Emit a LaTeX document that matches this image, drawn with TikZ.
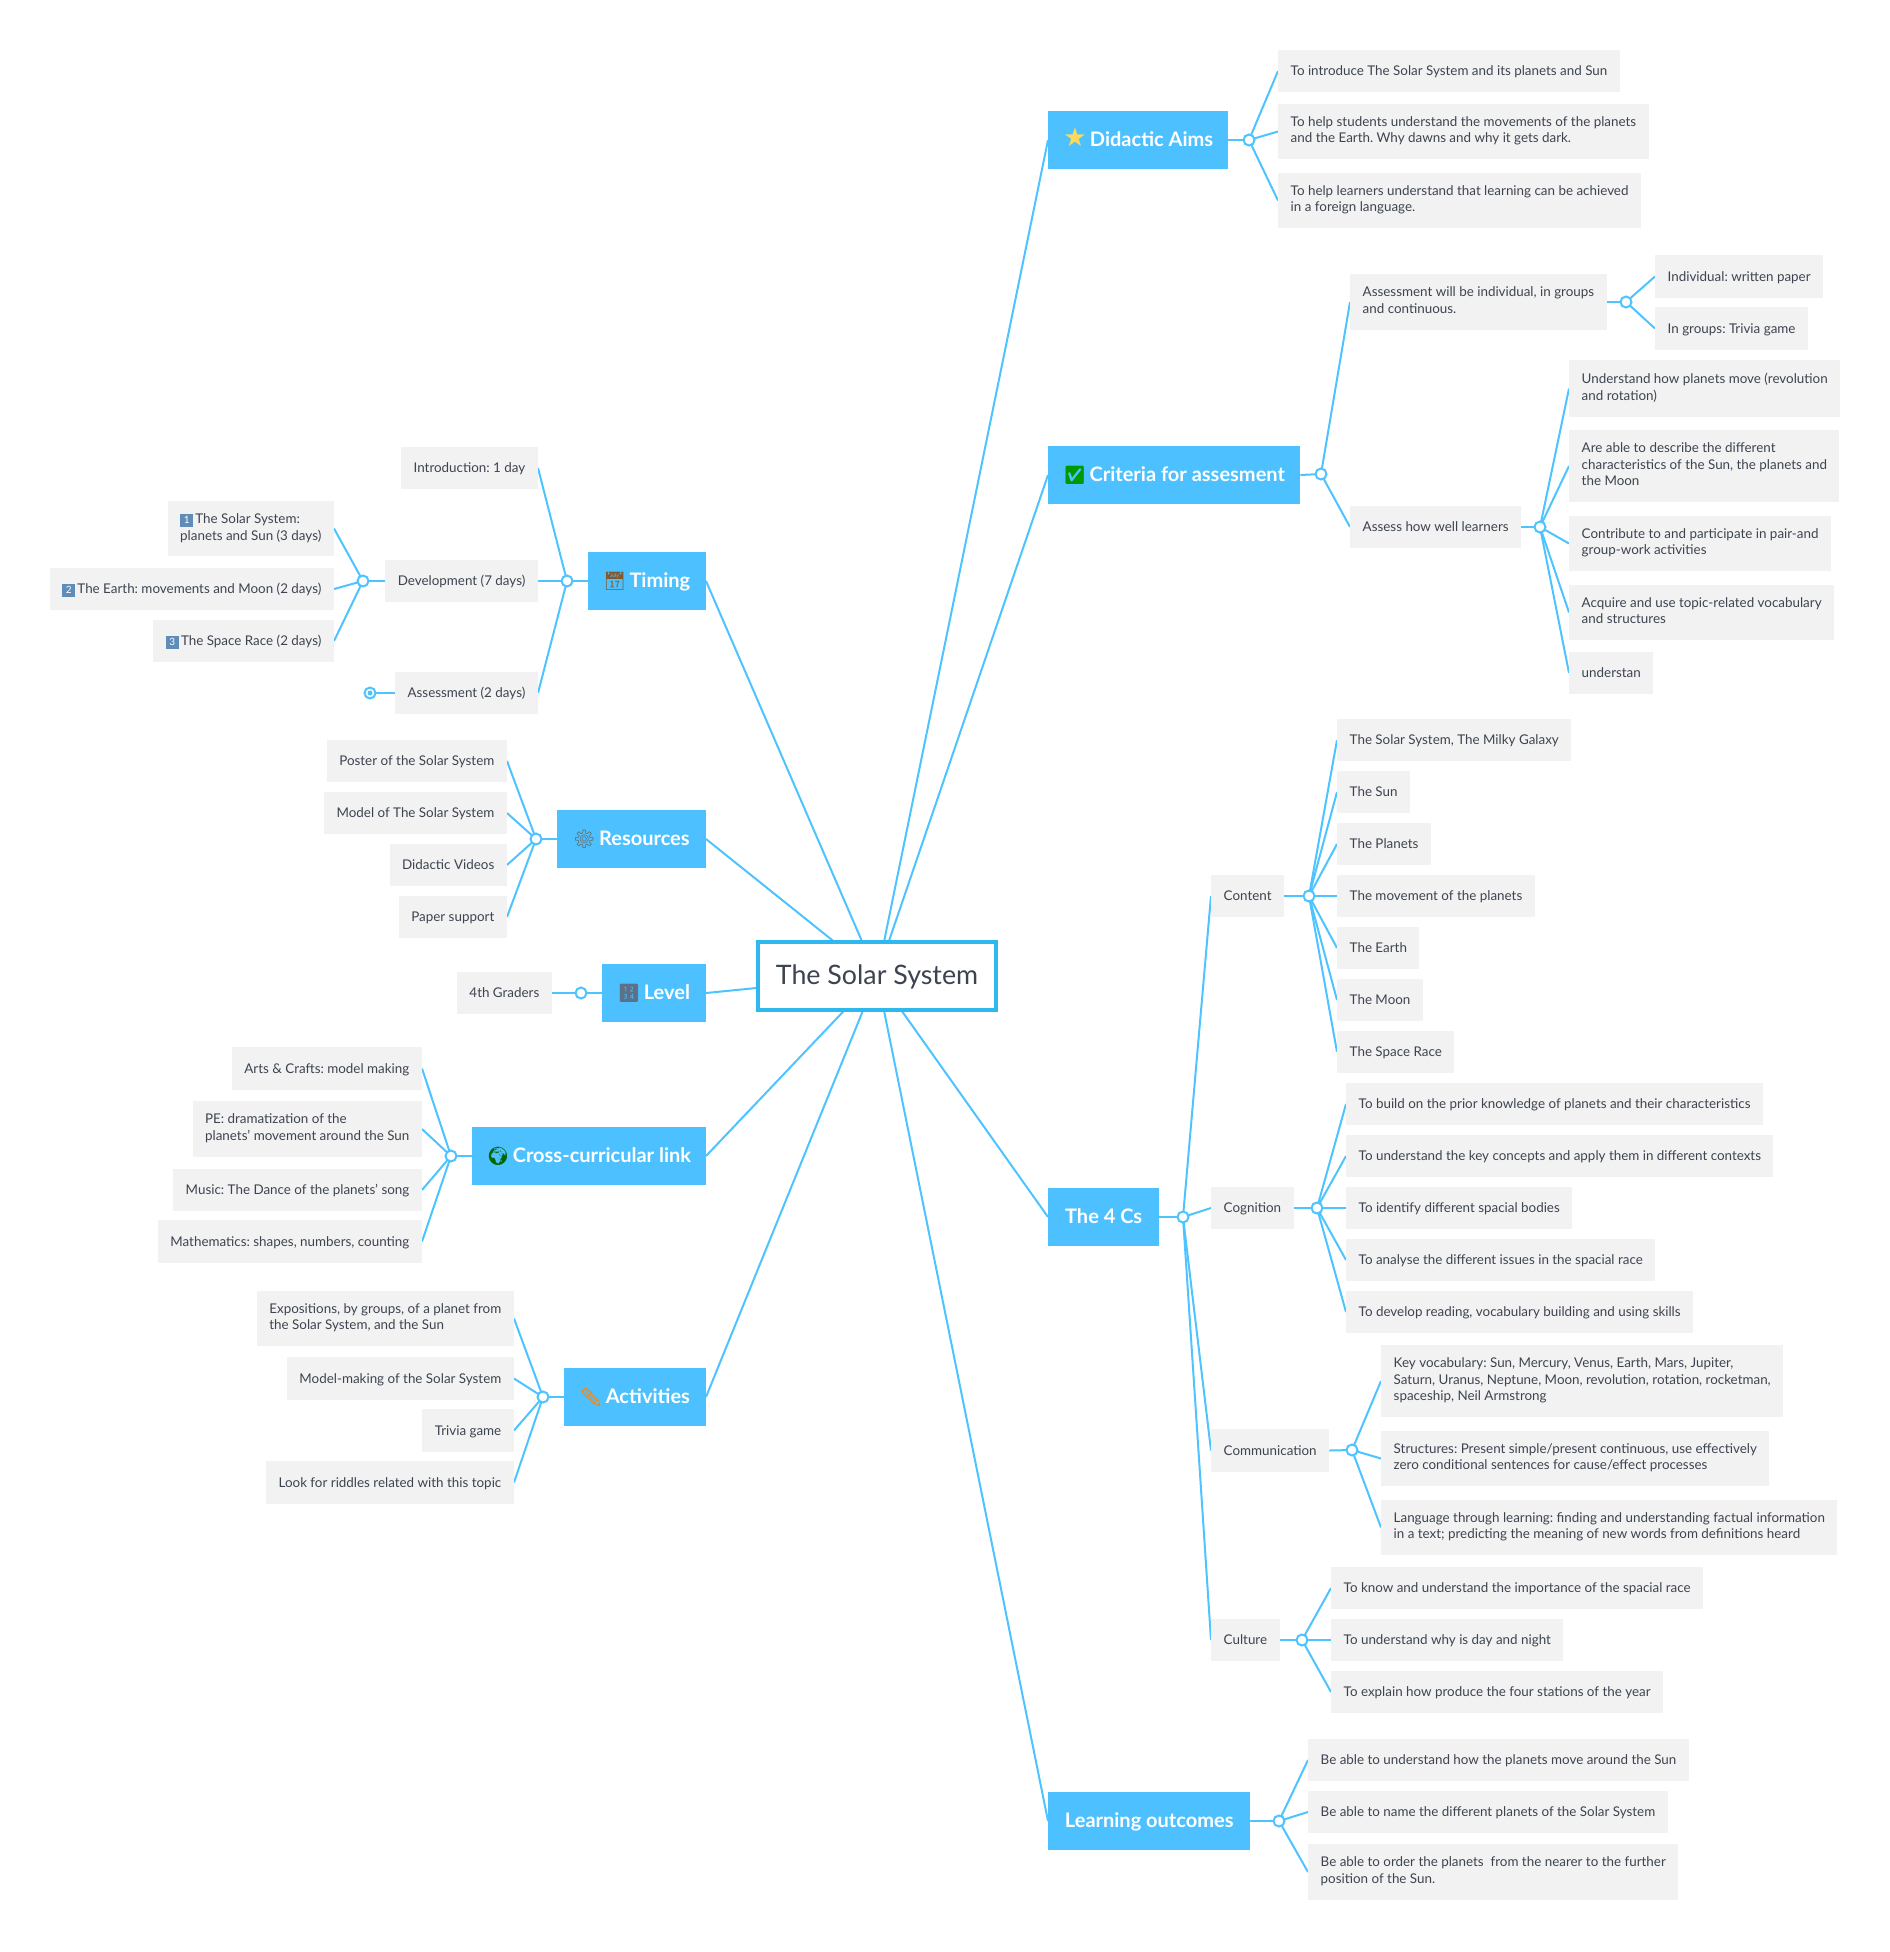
\documentclass[tikz,border=0pt]{standalone}
\usepackage{fontspec}
\setmainfont{Lato}
\newfontfamily\emojifont[Scale=0.9]{Noto Emoji}
\newfontfamily\symbolfont[Scale=1.3]{DejaVu Sans}
\usetikzlibrary{backgrounds}
\definecolor{edgeblue}{HTML}{4DC3FF}
\definecolor{topicblue}{HTML}{4DC1FF}
\definecolor{rootblue}{HTML}{2FB8EE}
\definecolor{leafgray}{HTML}{F2F2F2}
\definecolor{inkgray}{HTML}{3D4450}
\definecolor{keyblue}{HTML}{5F8DB8}
\definecolor{levelgray}{HTML}{5C7088}
\definecolor{stargold}{HTML}{FFD95A}
\newcommand\icon[2]{{\emojifont\color{#1}#2}\,}
\newcommand\keycap[1]{{\setlength{\fboxsep}{1.5pt}\colorbox{keyblue}{\makebox[10pt]{\rule[-1.5pt]{0pt}{10pt}\color{white}\fontsize{10}{10}\selectfont#1}}}\,}
\frenchspacing

\begin{document}
\begin{tikzpicture}[
	x=1pt, y=-1pt,
	root/.style = {draw=rootblue, line width=4pt, fill=white, text=inkgray, minimum width=238pt, minimum height=68pt, font=\fontsize{26.8}{32}\selectfont, execute at begin node=\rule[-5pt]{0pt}{27pt}},
	topic/.style = {fill=topicblue, text=white, minimum height=58pt, inner xsep=0pt, text height=16pt, text depth=3.6pt, font=\fontsize{20}{24}\selectfont\bfseries},
	leaf/.style = {fill=leafgray, text=inkgray, align=left, inner xsep=12.5pt, inner ysep=13pt, font=\fontsize{13.4}{16.5}\selectfont, execute at begin node=\rule{0pt}{13.05pt}, execute at end node=\rule[-3.45pt]{0pt}{3.45pt}},
	hub/.style = {circle, draw=edgeblue, line width=2pt, fill=white, inner sep=0pt, minimum size=11pt},
	edge/.style = {draw=edgeblue, line width=2pt},
]
	\useasboundingbox (0,0) rectangle (1890,1952);

	\node [root] at (877,976) (root) {The Solar System};

	%% The topics on the right: name/left/y/width/text
	\foreach \name/\x/\y/\w/\txt in {%
		aims/1048/140/180/{{\symbolfont\color{stargold}★}\,Didactic Aims},
		crit/1048/475/252/{\icon{green!60!black}{✅}Criteria for assesment},
		cs/1048/1217/111/{The 4 Cs},
		out/1048/1821/202/{Learning outcomes}%
	}{%
		\node [topic, anchor=west, minimum width=\w pt] at (\x,\y) (\name) {\txt};
	}

	%% The topics on the left: name/right/y/width/text
	\foreach \name/\x/\y/\w/\txt in {%
		time/706/581/118/{\icon{brown!70!black}{📅}Timing},
		res/706/839/149/{\icon{gray!80!black}{⚙}Resources},
		lvl/706/993/104/{\icon{levelgray}{🔢}Level},
		link/706/1156/234/{\icon{green!40!black}{🌍}Cross-curricular link},
		act/706/1397/142/{\icon{orange}{✏}Activities}%
	}{%
		\node [topic, anchor=east, minimum width=\w pt] at (\x,\y) (\name) {\txt};
	}

	%% The hubs: name/x/y
	\foreach \name/\x/\y in {%
		aims/1249/140, crit/1321/474, crit-1/1626/302, crit-2/1540/527,
		cs/1183/1217, cs-1/1309/896, cs-2/1317/1208, cs-3/1352/1450, cs-4/1302/1640,
		out/1279/1821, time/567/581, time-2/363/581, res/536/839,
		lvl/581/993, link/451/1156, act/543/1397%
	}{%
		\node [hub] at (\x,\y) (hub-\name) {};
	}

	%% The children on the right of a hub
	\foreach [count=\n] \y/\txt in {71/{To introduce The Solar System and its planets and Sun},
		131.5/{To help students understand the movements of the planets\\and the Earth. Why dawns and why it gets dark.},
		200.5/{To help learners understand that learning can be achieved\\in a foreign language.}}{%
		\node [leaf, anchor=west] at (1278,\y) (aims-\n) {\txt};
	}
	\foreach [count=\n] \x/\y/\txt in {1350/302/{Assessment will be individual, in groups\\and continuous.},
		1350/527/{Assess how well learners}}{%
		\node [leaf, anchor=west] at (\x,\y) (crit-\n) {\txt};
	}
	\foreach [count=\n] \y/\txt in {276.5/{Individual: written paper}, 328.5/{In groups: Trivia game}}{%
		\node [leaf, anchor=west] at (1655,\y) (crit-1-\n) {\txt};
	}
	\foreach [count=\n] \y/\txt in {388.5/{Understand how planets move (revolution\\and rotation)},
		466/{Are able to describe the different\\characteristics of the Sun, the planets and\\the Moon},
		543.5/{Contribute to and participate in pair-and\\group-work activities},
		612.5/{Acquire and use topic-related vocabulary\\and structures},
		673/{understan}}{%
		\node [leaf, anchor=west] at (1569,\y) (crit-2-\n) {\txt};
	}
	\foreach [count=\n] \y/\txt in {896/{Content}, 1208/{Cognition}, 1450.5/{Communication}, 1640/{Culture}}{%
		\node [leaf, anchor=west] at (1211,\y) (cs-\n) {\txt};
	}
	\foreach [count=\n] \y/\txt in {740/{The Solar System, The Milky Galaxy}, 792/{The Sun}, 844/{The Planets},
		896/{The movement of the planets}, 948/{The Earth}, 1000/{The Moon}, 1052/{The Space Race}}{%
		\node [leaf, anchor=west] at (1337,\y) (cs-1-\n) {\txt};
	}
	\foreach [count=\n] \y/\txt in {1104/{To build on the prior knowledge of planets and their characteristics},
		1156/{To understand the key concepts and apply them in different contexts},
		1208/{To identify different spacial bodies},
		1260/{To analyse the different issues in the spacial race},
		1312/{To develop reading, vocabulary building and using skills}}{%
		\node [leaf, anchor=west] at (1346,\y) (cs-2-\n) {\txt};
	}
	\foreach [count=\n] \y/\txt in {1381/{Key vocabulary: Sun, Mercury, Venus, Earth, Mars, Jupiter,\\Saturn, Uranus, Neptune, Moon, revolution, rotation, rocketman,\\spaceship, Neil Armstrong},
		1458.5/{Structures: Present simple/present continuous, use effectively\\zero conditional sentences for cause/effect processes},
		1527.5/{Language through learning: finding and understanding factual information\\in a text; predicting the meaning of new words from definitions heard}}{%
		\node [leaf, anchor=west] at (1381,\y) (cs-3-\n) {\txt};
	}
	\foreach [count=\n] \y/\txt in {1588/{To know and understand the importance of the spacial race},
		1640/{To understand why is day and night},
		1692/{To explain how produce the four stations of the year}}{%
		\node [leaf, anchor=west] at (1331,\y) (cs-4-\n) {\txt};
	}
	\foreach [count=\n] \y/\txt in {1760/{Be able to understand how the planets move around the Sun},
		1812/{Be able to name the different planets of the Solar System},
		1872/{Be able to order the planets~ from the nearer to the further\\position of the Sun.}}{%
		\node [leaf, anchor=west] at (1308,\y) (out-\n) {\txt};
	}

	%% The children on the left of a hub
	\foreach [count=\n] \y/\txt in {468/{Introduction: 1 day}, 581/{Development (7 days)}, 693/{Assessment (2 days)}}{%
		\node [leaf, anchor=east] at (538,\y) (time-\n) {\txt};
	}
	\foreach [count=\n] \y/\txt in {528.5/{\keycap{1}The Solar System:\\planets and Sun (3 days)},
		589/{\keycap{2}The Earth: movements and Moon (2 days)},
		641/{\keycap{3}The Space Race (2 days)}}{%
		\node [leaf, anchor=east] at (334,\y) (time-2-\n) {\txt};
	}
	\foreach [count=\n] \y/\txt in {761/{Poster of the Solar System}, 813/{Model of The Solar System}, 865/{Didactic Videos}, 917/{Paper support}}{%
		\node [leaf, anchor=east] at (507,\y) (res-\n) {\txt};
	}
	\node [leaf, anchor=east] at (552,993) (lvl-1) {4th Graders};
	\foreach [count=\n] \y/\txt in {1068.5/{Arts \& Crafts: model making},
		1129/{PE: dramatization of the\\planets' movement around the Sun},
		1190/{Music: The Dance of the planets' song},
		1241.5/{Mathematics: shapes, numbers, counting}}{%
		\node [leaf, anchor=east] at (422,\y) (link-\n) {\txt};
	}
	\foreach [count=\n] \y/\txt in {1318.5/{Expositions, by groups, of a planet from\\the Solar System, and the Sun},
		1378.5/{Model-making of the Solar System},
		1430.5/{Trivia game},
		1482.5/{Look for riddles related with this topic}}{%
		\node [leaf, anchor=east] at (514,\y) (act-\n) {\txt};
	}

	%% The folded branch under Assessment
	\node [hub, path picture={\fill [edgeblue] (path picture bounding box.center) circle (2.5pt);}] at (370,693) (hub-time-3) {};

	%% Draw the connections behind the nodes
	\begin{pgfonlayer}{background}
		\foreach \t/\s in {aims/west, crit/west, cs/west, out/west, time/east, res/east, lvl/east, link/east, act/east}{%
			\draw [edge] (root.center) to (\t.\s);
		}
		%% parent/number of children/side of the parent/side of the child
		\foreach \p/\m/\s/\c in {aims/3/east/west, crit/2/east/west, crit-1/2/east/west, crit-2/5/east/west,
			cs/4/east/west, cs-1/7/east/west, cs-2/5/east/west, cs-3/3/east/west, cs-4/3/east/west, out/3/east/west,
			time/3/west/east, time-2/3/west/east, res/4/west/east, lvl/1/west/east, link/4/west/east, act/4/west/east}{%
			\draw [edge] (\p.\s) to (hub-\p.center);
			\foreach \n in {1,...,\m}{%
				\draw [edge] (hub-\p.center) to (\p-\n.\c);
			}
		}
		\draw [edge] (time-3.west) to (hub-time-3.center);
	\end{pgfonlayer}
\end{tikzpicture}
\end{document}
